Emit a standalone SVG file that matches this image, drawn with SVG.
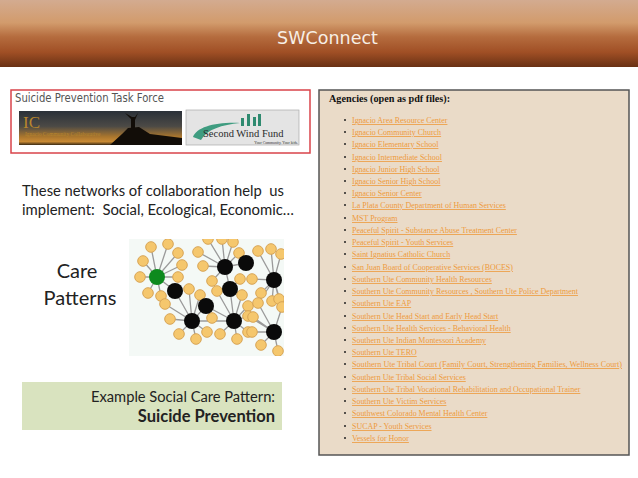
<svg xmlns="http://www.w3.org/2000/svg" width="638" height="478" viewBox="0 0 638 478" font-family="Lato, 'Open Sans', sans-serif">
<defs>
<linearGradient id="hdr" x1="0" y1="0" x2="0" y2="1"><stop offset="0" stop-color="#d3ab90"/><stop offset="0.34" stop-color="#d29b6c"/><stop offset="0.55" stop-color="#b56c3e"/><stop offset="0.78" stop-color="#a04f25"/><stop offset="1" stop-color="#693114"/></linearGradient>
<linearGradient id="sky" x1="0" y1="0" x2="0" y2="1"><stop offset="0" stop-color="#2a3038"/><stop offset="0.45" stop-color="#4c4a46"/><stop offset="0.75" stop-color="#a8752e"/><stop offset="0.9" stop-color="#c98a34"/><stop offset="1" stop-color="#3a2a14"/></linearGradient>
<clipPath id="netclip"><rect x="129" y="239" width="155" height="117"/></clipPath>
</defs>
<style>
.a{font-family:"Liberation Serif",serif;font-size:7.95px;fill:#ee9a3c;text-decoration:underline}
.e{stroke:#9a9a9a;stroke-width:1.3;fill:none}
.o{fill:#f5c76d;stroke:#d8a556;stroke-width:1}
.k{fill:#0a0a0a}
.t{font-size:16px;fill:#222}
.s{font-family:"Liberation Serif",serif}
</style>
<rect width="638" height="478" fill="#fff"/>
<rect id="header" width="638" height="67" fill="url(#hdr)"/>
<text x="327.500" y="44" text-anchor="middle" font-size="17.500" fill="#f7efe6" style="font-family:'DejaVu Sans',sans-serif">SWConnect</text>
<g id="task-force">
<rect x="11" y="90" width="299" height="63" fill="#fff" stroke="#d9434a" stroke-width="1.500"/>
<text x="15" y="102" font-size="11.500" fill="#555" style="font-family:'DejaVu Sans',sans-serif" textLength="149" lengthAdjust="spacingAndGlyphs">Suicide Prevention Task Force</text>
<rect x="19" y="111" width="163" height="34" fill="url(#sky)"/>
<path d="M110 145L122 134L128 128L139 127L150 134L182 138V145Z" fill="#120d08"/>
<path d="M131 128V119L125 113L132 117L135 117L138 113L135 120V128Z" fill="#120d08"/>
<text x="23" y="128" font-size="17" fill="#b8862c" class="s">IC</text>
<text x="25" y="136" font-size="5.500" fill="#b8862c" class="s">Ignacio Community Collaborative</text>
<rect x="186" y="110" width="113" height="35" fill="#e4e4e4" stroke="#aaa" stroke-width="0.700"/>
<path d="M193 137C197 127 215 122 240 123C222 125 207 129 201 140Z" fill="#3f9c80"/>
<g fill="#2f8a70"><rect x="241" y="118" width="3" height="8"/><rect x="247" y="114" width="3" height="12"/><rect x="253" y="117" width="3" height="9"/><rect x="258" y="114" width="3" height="12"/></g>
<text x="203" y="137" font-size="10.500" fill="#2b2b2b" class="s">Second Wind Fund</text>
<text x="298" y="143.500" text-anchor="end" font-size="3.800" fill="#333" class="s">Your Community. Your kids.</text>
</g>
<g id="intro">
<text x="22" y="196" class="t" xml:space="preserve" textLength="262" lengthAdjust="spacingAndGlyphs">These networks of collaboration help  us</text>
<text x="22" y="215" class="t" xml:space="preserve" textLength="272" lengthAdjust="spacingAndGlyphs">implement:  Social, Ecological, Economic…</text>
</g>
<g id="care">
<text x="77" y="278" text-anchor="middle" font-size="20" fill="#222">Care</text>
<text x="80" y="305" text-anchor="middle" font-size="20" fill="#222">Patterns</text>
</g>
<g id="network" clip-path="url(#netclip)">
<rect x="129" y="239" width="155" height="117" fill="#f4f9f6"/>
<path class="e" id="connectors" d="M157 277L151 247M157 277L168 244M157 277L178 253M157 277L182 265M157 277L178 277M157 277L143 261M157 277L140 277M157 277L148 293M157 277L161 296M157 277L175 291L192 321M192 321L189 289M192 321L200 295M192 321L165 304M192 321L170 319M192 321L179 334M192 321L196 339M192 321L207 332M192 321L234 321M192 321L206 306L234 321M234 321L220 334M234 321L237 339M234 321L248 306M234 321L248 316M234 321L248 332M234 321L217 291M234 321L242 295M234 321L230 289L225 267M225 267L198 252M225 267L203 266M225 267L208 239M225 267L222 239M225 267L233 242M225 267L239 253M225 267L212 281M225 267L246 263M230 289L240 279M274 280L252 279M274 280L258 251M274 280L271 249M274 280L281 254M274 280L261 293M274 280L258 303M274 280L272 301M274 280L279 299M274 280L282 307M274 332L248 316M274 332L253 317M274 332L252 332M274 332L261 345M274 332L278 351M274 332L258 303M274 332L282 307"/>
<g class="o" id="leaves">
<circle cx="151" cy="247" r="5.300"/><circle cx="168" cy="244" r="5.300"/><circle cx="178" cy="253" r="5.300"/><circle cx="182" cy="265" r="5.300"/><circle cx="178" cy="277" r="5.300"/><circle cx="143" cy="261" r="5.300"/><circle cx="140" cy="277" r="5.300"/><circle cx="148" cy="293" r="5.300"/><circle cx="161" cy="296" r="5.300"/>
<circle cx="189" cy="289" r="5.300"/><circle cx="200" cy="295" r="5.300"/><circle cx="165" cy="304" r="5.300"/><circle cx="170" cy="319" r="5.300"/><circle cx="179" cy="334" r="5.300"/><circle cx="196" cy="339" r="5.300"/><circle cx="207" cy="332" r="5.300"/><circle cx="212" cy="318" r="5.300"/><circle cx="220" cy="334" r="5.300"/><circle cx="237" cy="339" r="5.300"/>
<circle cx="248" cy="306" r="5.300"/><circle cx="248" cy="316" r="5.300"/><circle cx="253" cy="317" r="5.300"/><circle cx="248" cy="332" r="5.300"/><circle cx="252" cy="332" r="5.300"/><circle cx="261" cy="345" r="5.300"/><circle cx="278" cy="351" r="5.300"/>
<circle cx="198" cy="252" r="5.300"/><circle cx="203" cy="266" r="5.300"/><circle cx="208" cy="239" r="5.300"/><circle cx="222" cy="239" r="5.300"/><circle cx="233" cy="242" r="5.300"/><circle cx="239" cy="253" r="5.300"/><circle cx="212" cy="281" r="5.300"/><circle cx="217" cy="291" r="5.300"/><circle cx="240" cy="279" r="5.300"/><circle cx="242" cy="295" r="5.300"/><circle cx="252" cy="279" r="5.300"/>
<circle cx="258" cy="251" r="5.300"/><circle cx="271" cy="249" r="5.300"/><circle cx="281" cy="254" r="5.300"/><circle cx="261" cy="293" r="5.300"/><circle cx="258" cy="303" r="5.300"/><circle cx="272" cy="301" r="5.300"/><circle cx="279" cy="299" r="5.300"/><circle cx="282" cy="307" r="5.300"/>
</g>
<circle cx="157" cy="277" r="8" fill="#0d8a1e"/>
<g class="k">
<circle cx="175" cy="291" r="8"/><circle cx="225" cy="267" r="8"/><circle cx="246" cy="263" r="8"/><circle cx="230" cy="289" r="8"/><circle cx="274" cy="280" r="8"/><circle cx="206" cy="306" r="8"/><circle cx="192" cy="321" r="8"/><circle cx="234" cy="321" r="8"/><circle cx="274" cy="332" r="8"/>
</g>
</g>
<g id="example">
<rect x="22" y="382" width="260" height="48" fill="#d9e3bf"/>
<text x="91" y="402" font-size="15.500" fill="#222" textLength="184" lengthAdjust="spacingAndGlyphs">Example Social Care Pattern:</text>
<text x="275" y="422" text-anchor="end" font-size="16.500" font-weight="700" fill="#222">Suicide Prevention</text>
</g>
<g id="agencies">
<rect x="319" y="90" width="310" height="365" fill="#eadbc8" stroke="#555" stroke-width="1.500"/>
<text x="329" y="102" font-size="10.200" font-weight="700" fill="#111" class="s">Agencies (open as pdf files):</text>
<g class="a">
<text x="352" y="123">Ignacio Area Resource Center</text>
<text x="352" y="135">Ignacio Community Church</text>
<text x="352" y="147">Ignacio Elementary School</text>
<text x="352" y="160">Ignacio Intermediate School</text>
<text x="352" y="172">Ignacio Junior High School</text>
<text x="352" y="184">Ignacio Senior High School</text>
<text x="352" y="196">Ignacio Senior Center</text>
<text x="352" y="208">La Plata County Department of Human Services</text>
<text x="352" y="221">MST Program</text>
<text x="352" y="233">Peaceful Spirit - Substance Abuse Treatment Center</text>
<text x="352" y="245">Peaceful Spirit - Youth Services</text>
<text x="352" y="257">Saint Ignatius Catholic Church</text>
<text x="352" y="270">San Juan Board of Cooperative Services (BOCES)</text>
<text x="352" y="282">Southern Ute Community Health Resources</text>
<text x="352" y="294">Southern Ute Community Resources , Southern Ute Police Department</text>
<text x="352" y="306">Southern Ute EAP</text>
<text x="352" y="319">Southern Ute Head Start and Early Head Start</text>
<text x="352" y="331">Southern Ute Health Services - Behavioral Health</text>
<text x="352" y="343">Southern Ute Indian Montessori Academy</text>
<text x="352" y="355">Southern Ute TERO</text>
<text x="352" y="367" textLength="270" lengthAdjust="spacingAndGlyphs">Southern Ute Tribal Court (Family Court, Strengthening Families, Wellness Court)</text>
<text x="352" y="380">Southern Ute Tribal Social Services</text>
<text x="352" y="392">Southern Ute Tribal Vocational Rehabilitation and Occupational Trainer</text>
<text x="352" y="404">Southern Ute Victim Services</text>
<text x="352" y="416">Southwest Colorado Mental Health Center</text>
<text x="352" y="429">SUCAP - Youth Services</text>
<text x="352" y="441">Vessels for Honor</text>
</g>
<g fill="#222">
<circle cx="345" cy="120" r="1"/><circle cx="345" cy="132" r="1"/><circle cx="345" cy="144" r="1"/><circle cx="345" cy="157" r="1"/><circle cx="345" cy="169" r="1"/><circle cx="345" cy="181" r="1"/><circle cx="345" cy="193" r="1"/><circle cx="345" cy="205" r="1"/><circle cx="345" cy="218" r="1"/><circle cx="345" cy="230" r="1"/><circle cx="345" cy="242" r="1"/><circle cx="345" cy="254" r="1"/><circle cx="345" cy="267" r="1"/><circle cx="345" cy="279" r="1"/><circle cx="345" cy="291" r="1"/><circle cx="345" cy="303" r="1"/><circle cx="345" cy="316" r="1"/><circle cx="345" cy="328" r="1"/><circle cx="345" cy="340" r="1"/><circle cx="345" cy="352" r="1"/><circle cx="345" cy="364" r="1"/><circle cx="345" cy="377" r="1"/><circle cx="345" cy="389" r="1"/><circle cx="345" cy="401" r="1"/><circle cx="345" cy="413" r="1"/><circle cx="345" cy="426" r="1"/><circle cx="345" cy="438" r="1"/>
</g>
</g>
</svg>
